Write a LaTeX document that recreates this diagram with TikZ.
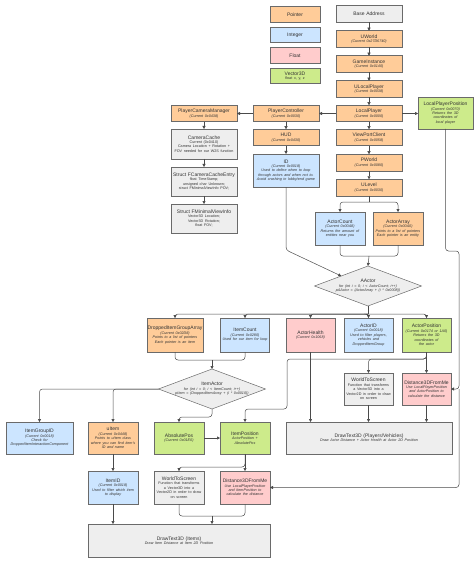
\documentclass[tikz,border=0pt]{standalone}
\usepackage{fontspec}
\setmainfont{Liberation Sans}
\usetikzlibrary{shapes.geometric,arrows.meta}
\definecolor{ptrc}{HTML}{FFCC99}
\definecolor{intc}{HTML}{CCE5FF}
\definecolor{fltc}{HTML}{FFCCCC}
\definecolor{vecc}{HTML}{CDEB8B}
\definecolor{gryc}{HTML}{EEEEEE}
\definecolor{strk}{HTML}{6A6A6A}
\definecolor{txtc}{HTML}{333333}
\definecolor{linec}{HTML}{4A4A4A}
\setlength{\parindent}{0pt}
\newcommand\sm{\fontsize{3.7}{4.4}\selectfont\itshape}
\newcommand\su{\fontsize{3.7}{4.4}\selectfont}
\newcommand\bt[2]{#1\par{\sm #2\par}}
\newcommand\bu[2]{#1\par{\su #2\par}}
\begin{document}
\begin{tikzpicture}[x=1pt,y=-1pt,
  bx/.style={draw=strk, line width=0.5pt, inner sep=0pt, outer sep=0pt, align=center, text=txtc, font=\fontsize{5}{6}\selectfont},
  ptr/.style={bx, fill=ptrc},
  intg/.style={bx, fill=intc},
  flt/.style={bx, fill=fltc},
  vec/.style={bx, fill=vecc},
  gry/.style={bx, fill=gryc},
  sz/.style n args={3}{minimum width=#1pt, minimum height=#2pt, text width=#3pt},
  dia/.style={diamond, draw=strk, fill=gryc, line width=0.5pt, minimum width=107pt, minimum height=40pt, inner sep=0pt, outer sep=0pt},
  dtxt/.style={inner sep=0pt, align=center, text=txtc, font=\fontsize{5}{6}\selectfont, text width=100pt},
  arr/.style={draw=linec, line width=0.5pt, rounded corners=3pt, -{Triangle[length=3pt,width=3pt]}},
  ln/.style={draw=linec, line width=0.5pt, rounded corners=3pt}]
\useasboundingbox (0,0) rectangle (474,564);

% legend
\node[ptr,sz={50}{15.5}{48}] (lgP) at (295,14.5) {Pointer};
\node[intg,sz={50}{15.5}{48}] (lgI) at (295,35) {Integer};
\node[flt,sz={50}{15.5}{48}] (lgF) at (295,55.5) {Float};
\node[vec,sz={50}{15.5}{48}] (lgV) at (295,76) {\bu{Vector3D}{float x, y, z}};

% main column
\node[gry,sz={66}{16.5}{64}] (base) at (369,14) {Base Address};
\node[ptr,sz={66}{16.5}{64}] (uworld) at (369,39) {\bt{UWorld}{(Current 0x27D6740)}};
\node[ptr,sz={66}{16.5}{64}] (gameinst) at (369,64) {\bt{GameInstance}{(Current 0x0140)}};
\node[ptr,sz={66}{16.5}{64}] (ulp) at (369,89) {\bt{ULocalPlayer}{(Current 0x0038)}};
\node[ptr,sz={66}{16.5}{64}] (lp) at (369,113.5) {\bt{LocalPlayer}{(Current 0x0000)}};
\node[ptr,sz={66}{16.5}{64}] (viewport) at (369,137.5) {\bt{ViewPortClient}{(Current 0x0058)}};
\node[ptr,sz={66}{16.5}{64}] (pworld) at (369,162.5) {\bt{PWorld}{(Current 0x0080)}};
\node[ptr,sz={66}{16.5}{64}] (ulevel) at (369,187.5) {\bt{ULevel}{(Current 0x0030)}};

% player controller branch
\node[ptr,sz={66}{16.5}{64}] (playerctrl) at (286,113.5) {\bt{PlayerController}{(Current 0x0030)}};
\node[ptr,sz={66}{16.5}{64}] (hud) at (286,137.5) {\bt{HUD}{(Current 0x0430)}};
\node[intg,sz={66}{33}{64}] (id) at (286,170.5) {\bt{ID}{(Current 0x0018)\\Used to define when to loop\\through actors and when not to.\\Avoid crashing in lobby/end game}};
\node[ptr,sz={66}{16.5}{64}] (pcm) at (204,113.5) {\bt{PlayerCameraManager}{(Current 0x0438)}};
\node[gry,sz={66}{30}{64}] (camcache) at (204,144) {\bu{CameraCache}{Current (0x0410)\\Camera Location + Rotation +\\FOV needed for our W2S function}};
\node[gry,sz={66}{29}{64}] (fcce) at (204,181.5) {\bu{Struct FCameraCacheEntry}{float TimeStamp;\\unsigned char Unknown;\\struct FMinimalViewInfo POV;}};
\node[gry,sz={66}{29}{64}] (fmvi) at (204,218.5) {\bu{Struct FMinimalViewInfo}{Vector3D Location;\\Vector3D Rotation;\\float FOV;}};
\node[vec,sz={55}{32}{54}] (lpp) at (445.5,113) {\bt{LocalPlayerPosition}{(Current 0x0070)\\Returns the 3D\\coordinates of\\local player}};

% actors
\node[intg,sz={50}{33}{49}] (actorcount) at (340,228.5) {\bt{ActorCount}{(Current 0x00A8)\\Returns the amount of\\entities near you}};
\node[ptr,sz={50}{33}{49}] (actorarray) at (398,228.5) {\bt{ActorArray}{(Current 0x00A0)\\Points to a list of pointers\\Each pointer is an entity}};
\node[dia] (aactor) at (368,286) {};
\node[dtxt] (aactorT) at (aactor.center) {\bt{AActor}{for (int i = 0; i < ActorCount; i++)\\pAActor = (ActorArray + (i * 0x0008))}};

\node[ptr,sz={56}{34}{55}] (dropped) at (175,335) {\bt{DroppedItemGroupArray}{(Current 0x02D8)\\Points to a list of pointers\\Each pointer is an item}};
\node[intg,sz={49}{34}{48}] (itemcount) at (245,335) {\bt{ItemCount}{(Current 0x0280)\\Used for our item for loop}};
\node[flt,sz={49}{34}{48}] (actorhealth) at (310.5,335) {\bt{ActorHealth}{(Current 0x1068)}};
\node[intg,sz={49}{34}{48}] (actorid) at (368.5,335) {\bt{ActorID}{(Current 0x0018)\\Used to filter players,\\vehicles and\\DroppedItemGroup}};
\node[vec,sz={49}{34}{48}] (actorpos) at (426.5,335) {\bt{ActorPosition}{(Current 0x0174 or 1A0)\\Returns the 3D\\coordinates of\\the actor}};

\node[gry,sz={49}{32}{48}] (w2sA) at (368.5,389) {\bu{WorldToScreen}{Function that transforms\\a Vector3D into a\\Vector2D in order to draw\\on screen}};
\node[flt,sz={49}{32}{48}] (distA) at (426.5,389) {\bt{Distance3DFromMe}{Use LocalPlayerPosition\\and ActorPosition to\\calculate the distance}};
\node[gry,sz={166}{32}{160}] (drawA) at (369,438) {\bt{DrawText3D (Players/Vehicles)}{Draw Actor Distance + Actor Health at Actor 2D Position}};

% items
\node[dia] (itemactor) at (212,389) {};
\node[dtxt] (itemactorT) at (itemactor.center) {\bt{ItemActor}{for (int i = 0; i < ItemCount; i++)\\pItem = (DroppedItemArray + (i * 0x0010))}};
\node[intg,sz={67}{32}{66}] (itemgroupid) at (39.5,438) {\bt{ItemGroupID}{(Current 0x0018)\\Check for\\DroppedItemInteractionComponent}};
\node[ptr,sz={50}{32}{49}] (uitem) at (113,438) {\bt{uItem}{(Current 0x0448)\\Points to uItem class\\where you can find item's\\ID and name}};
\node[vec,sz={50}{32}{49}] (abspos) at (179,438) {\bt{AbsolutePos}{(Current 0x01E0)}};
\node[vec,sz={50}{32}{49}] (itempos) at (245,438) {\bt{ItemPosition}{ActorPosition +\\AbsolutePos}};
\node[intg,sz={50}{33}{49}] (itemid) at (113,487.5) {\bt{ItemID}{(Current 0x0018)\\Used to filter which item\\to display}};
\node[gry,sz={50}{33}{49}] (w2sI) at (179,487.5) {\bu{WorldToScreen}{Function that transforms\\a Vector3D into a\\Vector2D in order to draw\\on screen}};
\node[flt,sz={50}{33}{49}] (distI) at (245,487.5) {\bt{Distance3DFromMe}{Use LocalPlayerPosition\\and ItemPosition to\\calculate the distance}};
\node[gry,sz={182}{33}{176}] (drawI) at (179,540.5) {\bt{DrawText3D (Items)}{Draw Item Distance at Item 2D Position}};

% junctions
\coordinate (j1) at (369,202);
\coordinate (j2) at (369,256);
\coordinate (idb) at (286,250);
\coordinate (j3) at (368,314);
\coordinate (lpb1) at (445.5,251);
\coordinate (lpb2) at (459,251);
\coordinate (lpb3) at (459,389);
\coordinate (j4) at (212,360);
\coordinate (apb) at (426.5,359);
\coordinate (apb2) at (287,359);
\coordinate (apb3) at (287,409);
\coordinate (apb4) at (245,409);
\coordinate (iab) at (212,417);
\coordinate (ipb) at (245,467);
\coordinate (j5) at (212,516);

% connectors: main chain
\draw[arr] (base) -- (uworld);
\draw[arr] (uworld) -- (gameinst);
\draw[arr] (gameinst) -- (ulp);
\draw[arr] (ulp) -- (lp);
\draw[arr] (lp) -- (viewport);
\draw[arr] (viewport) -- (pworld);
\draw[arr] (pworld) -- (ulevel);
\draw[arr] (lp) -- (playerctrl);
\draw[arr] (playerctrl) -- (pcm);
\draw[arr] (lp.east) -- (lp.east -| lpp.west);
\draw[arr] (playerctrl) -- (hud);
\draw[arr] (hud) -- (id);
\draw[arr] (pcm) -- (camcache);
\draw[arr] (camcache) -- (fcce);
\draw[arr] (fcce) -- (fmvi);

\draw[ln] (ulevel.south) -- (j1);
\draw[arr] (j1) -| (actorcount.north);
\draw[arr] (j1) -| (actorarray.north);
\draw[ln] (actorcount.south) |- (j2);
\draw[ln] (actorarray.south) |- (j2);
\draw[arr] (j2) -- (aactor.north);
\draw[arr] (id.south) -- (idb) -- (aactor.north west);

\draw[ln] (aactor.south) -- (j3);
\draw[arr] (j3) -| (dropped.north);
\draw[arr] (j3) -| (itemcount.north);
\draw[arr] (j3) -| (actorhealth.north);
\draw[arr] (j3) -| (actorid.north);
\draw[arr] (j3) -| (actorpos.north);

% actor outputs
\draw[arr] (actorpos.south) -- (distA.north);
\draw[arr] (actorpos.south) -- (apb) -| (w2sA.north);
\draw[arr] (actorpos.south) -- (apb) -- (apb2) -- (apb3) -- (apb4) -- (itempos.north);
\draw[arr] (actorhealth.south) -- (actorhealth.south |- drawA.north);
\draw[arr] (w2sA.south) -- (w2sA.south |- drawA.north);
\draw[arr] (distA.south) -- (distA.south |- drawA.north);
\draw[arr] (lpp.south) -- (lpb1) -- (lpb2) -- (lpb3) -- (distA.east);
\draw[arr] (lpb3) -- (lpb3 |- distI.east) -- (distI.east);

% items
\draw[ln] (dropped.south) |- (j4);
\draw[ln] (itemcount.south) |- (j4);
\draw[arr] (j4) -- (itemactor.north);
\draw[arr] (itemactor.west) -| (itemgroupid.north);
\draw[arr] (itemactor.west) -| (uitem.north);
\draw[arr] (itemactor.south) -- (iab) -| (abspos.north);
\draw[arr] (abspos) -- (itempos);
\draw[arr] (uitem) -- (itemid);
\draw[arr] (itempos.south) -- (ipb) -| (w2sI.north);
\draw[arr] (itempos) -- (distI);
\draw[arr] (itemid.south) -- (itemid.south |- drawI.north);
\draw[ln] (w2sI.south) |- (j5);
\draw[ln] (distI.south) |- (j5);
\draw[arr] (j5) -- (j5 |- drawI.north);
\end{tikzpicture}
\end{document}
